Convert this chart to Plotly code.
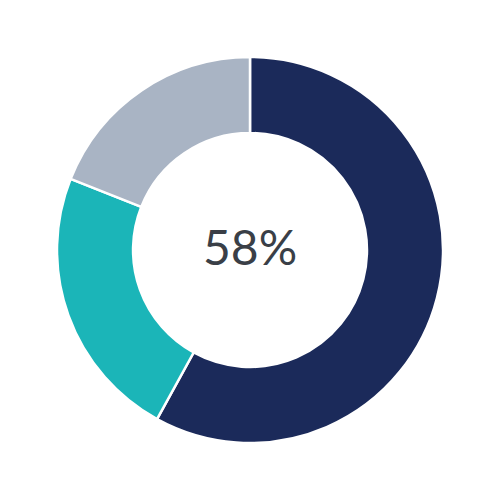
import plotly.graph_objects as go

labels = ["A", "B", "C"]
values = [58, 23, 19]
colors = ["#1b2a5a", "#1bb5b8", "#a9b4c4"]
center_label = "58%"

fig = go.Figure(go.Pie(
    labels=labels,
    values=values,
    hole=0.606,
    sort=False,
    direction="clockwise",
    rotation=0,
    marker=dict(colors=colors, line=dict(color="white", width=2.5)),
    textinfo="none",
    hoverinfo="label+percent",
    showlegend=False,
))
fig.update_layout(
    width=500, height=500,
    margin=dict(l=49, r=65, t=49, b=65),
    paper_bgcolor="white",
    plot_bgcolor="white",
    annotations=[dict(text=center_label, x=0.5, y=0.5, xref="paper", yref="paper",
                      yshift=4, showarrow=False,
                      font=dict(family="Lato", size=48, color="#3a3f47"))],
)
fig.write_html("out.html")
